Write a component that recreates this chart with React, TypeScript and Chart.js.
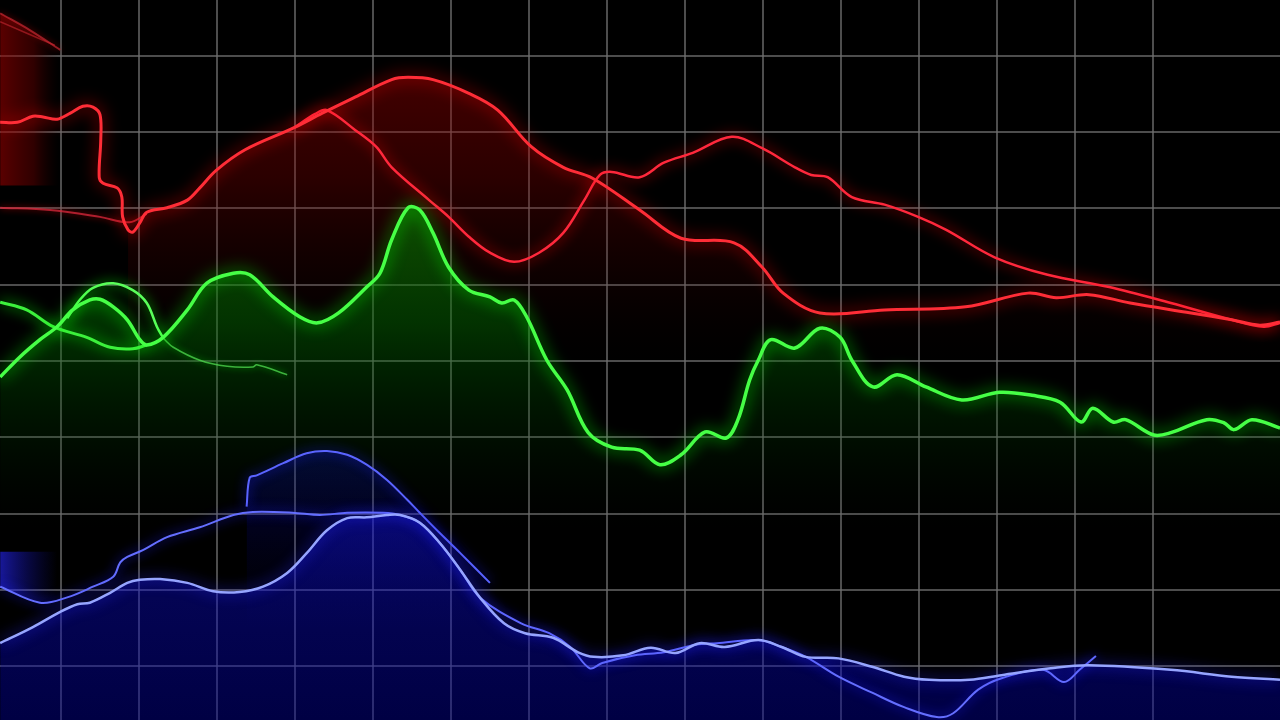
import React, { useEffect, useRef } from "react";
import { Chart, registerables } from "chart.js";

Chart.register(...registerables);

// Axis range (grid step = 10 units on both axes)
const X_MIN = -7.82;
const X_MAX = 156.3;
const Y_MIN = -7.08;
const Y_MAX = 87.34;
const GRID_STEP = 10;

// ---- Red series ----
const redAX = [-7.8, -5.6, -3.6, -2.3, -0.5, 1.2, 2.8, 4.1, 5.0, 5.1, 4.9, 5.4, 7.2, 7.8, 7.9, 8.6, 9.2, 10.1, 11.0, 13.6, 16.2, 17.8, 19.9, 23.6, 29.9, 33.5, 37.7, 42.4, 44.5, 47.7, 52.3, 56.0, 60.3, 64.4, 68.1, 74.2, 79.5, 86.3, 89.9, 92.6, 97.3, 105.6, 116.0, 124.0, 127.6, 131.8, 137.1, 144.9, 150.1, 153.7, 156.3];
const redAY = [71.3, 71.3, 72.1, 72.0, 71.7, 72.5, 73.4, 73.3, 72.3, 69.0, 64.1, 63.3, 62.7, 61.5, 58.9, 57.2, 56.9, 58.1, 59.5, 60.1, 61.1, 62.7, 65.0, 67.7, 70.6, 72.5, 74.6, 76.9, 77.2, 76.9, 75.1, 72.9, 68.1, 65.4, 64.0, 59.8, 56.1, 55.5, 52.3, 48.9, 46.3, 46.7, 47.1, 48.9, 48.3, 48.7, 47.6, 46.3, 45.4, 44.7, 45.1];

const redBX = [29.9, 32.6, 34.1, 37.7, 40.4, 42.4, 47.2, 49.7, 52.3, 55.0, 58.1, 61.3, 64.4, 67.1, 69.1, 70.6, 74.2, 77.3, 81.0, 86.0, 89.9, 94.1, 96.2, 98.3, 101.4, 105.6, 109.9, 113.5, 119.7, 126.5, 134.4, 142.3, 150.1, 154.2, 156.3];
const redBY = [70.6, 72.4, 72.9, 70.3, 68.1, 65.4, 61.1, 58.9, 56.3, 54.2, 53.0, 54.2, 56.8, 61.1, 64.4, 64.8, 64.1, 66.0, 67.3, 69.4, 67.9, 65.4, 64.4, 64.1, 61.5, 60.5, 58.9, 57.2, 53.6, 51.3, 49.7, 47.6, 45.4, 44.5, 45.0];

const redGhostX = [-7.8, -1.4, 5.0, 8.8, 11.0];
const redGhostY = [60.1, 59.8, 58.9, 58.2, 59.3];

const redTopX = [-7.8, -4.0, -0.1];
const redTopY = [85.6, 83.4, 80.8];
const redTop2X = [-7.8, -0.8];
const redTop2Y = [84.5, 81.4];

// ---- Green series ----
const greenX = [-7.8, -5.3, -2.7, -0.5, 1.5, 3.7, 5.0, 6.7, 8.5, 10.1, 11.0, 13.1, 16.2, 18.7, 22.1, 24.2, 27.2, 30.6, 32.9, 35.6, 39.2, 40.9, 42.4, 44.5, 46.0, 47.7, 49.7, 52.3, 55.0, 56.5, 58.1, 59.7, 62.3, 64.9, 67.6, 70.6, 74.2, 76.8, 79.5, 82.6, 85.3, 86.8, 88.3, 89.4, 91.0, 94.1, 97.3, 99.9, 101.4, 104.1, 107.2, 110.9, 115.5, 120.3, 124.5, 128.1, 130.8, 132.3, 134.9, 136.5, 140.1, 142.3, 146.9, 149.1, 150.4, 152.7, 156.3];
const greenY = [37.9, 40.5, 42.8, 44.5, 46.7, 48.0, 48.1, 47.1, 45.4, 42.8, 42.1, 43.1, 46.7, 50.2, 51.5, 51.3, 48.4, 45.8, 45.0, 46.3, 49.7, 51.5, 55.9, 60.1, 59.8, 56.8, 52.3, 49.3, 48.4, 47.6, 48.0, 45.8, 40.1, 36.2, 30.6, 28.7, 28.3, 26.4, 27.7, 30.7, 29.9, 32.3, 37.5, 40.1, 42.8, 41.7, 44.3, 43.1, 40.1, 36.6, 38.2, 36.6, 34.9, 35.9, 35.5, 34.6, 32.0, 33.8, 32.0, 32.3, 30.3, 30.6, 32.3, 31.9, 31.0, 32.3, 31.2];

const green2X = [-7.8, -4.4, -1.0, 3.3, 6.3, 9.2, 11.0];
const green2Y = [47.7, 46.7, 44.5, 43.1, 41.8, 41.6, 42.1];

const green3X = [0.8, 2.4, 4.1, 6.7, 9.2, 11.0, 12.3, 13.1];
const green3Y = [45.6, 48.0, 49.6, 50.2, 49.3, 47.6, 44.5, 43.0];

const greenTailX = [13.1, 14.4, 17.8, 21.3, 24.6, 25.1, 29.0];
const greenTailY = [43.0, 41.8, 40.1, 39.3, 39.2, 39.5, 38.2];

// ---- Blue series ----
const blueX = [-7.8, -3.6, -0.1, 2.1, 3.7, 6.3, 8.5, 10.1, 12.7, 16.2, 19.5, 22.9, 25.9, 29.0, 31.5, 34.1, 36.7, 39.2, 41.8, 43.5, 46.0, 48.6, 51.2, 53.7, 56.8, 59.5, 63.1, 66.3, 68.3, 72.1, 75.6, 78.8, 81.9, 85.1, 89.4, 92.4, 95.5, 99.7, 104.0, 108.1, 111.3, 116.5, 120.6, 126.9, 131.8, 142.3, 150.1, 156.3];
const blueY = [3.0, 5.1, 7.1, 8.1, 8.3, 9.6, 10.9, 11.3, 11.4, 10.9, 9.8, 9.7, 10.4, 12.2, 14.8, 17.8, 19.4, 19.5, 19.8, 19.8, 18.8, 16.1, 12.6, 9.0, 5.6, 4.3, 3.7, 1.8, 1.2, 1.4, 2.4, 1.7, 3.0, 2.5, 3.4, 2.5, 1.2, 1.0, -0.1, -1.4, -1.8, -1.8, -1.2, -0.3, 0.1, -0.5, -1.4, -1.8];

const blue2X = [-7.8, -2.7, 0.8, 4.1, 6.7, 7.6, 8.5, 10.5, 13.6, 17.8, 22.1, 24.6, 29.7, 33.2, 36.7, 41.3, 43.5, 46.0, 48.6, 51.2, 53.7, 59.0, 62.6, 65.3, 67.8, 69.4, 73.6, 77.3, 81.4, 84.1, 89.4, 92.4, 95.5, 99.7, 104.0, 108.1, 112.3, 114.4, 117.6, 120.6, 125.9, 128.6, 130.6, 132.7];
const blue2Y = [10.4, 8.3, 9.0, 10.4, 11.7, 13.6, 14.3, 15.2, 16.9, 18.2, 19.8, 20.2, 20.1, 19.8, 20.1, 20.1, 19.8, 18.8, 16.1, 12.6, 9.0, 5.6, 4.3, 2.5, -0.3, 0.4, 1.4, 1.8, 2.8, 3.0, 3.4, 2.5, 1.2, -1.4, -3.5, -5.4, -6.7, -6.2, -3.1, -1.6, -0.5, -2.1, -0.5, 1.3];

const blueHumpX = [23.8, 24.2, 25.1, 28.5, 31.5, 34.1, 36.7, 39.2, 41.8, 44.4, 46.0, 48.6, 51.2, 55.0];
const blueHumpY = [20.9, 24.7, 25.0, 26.6, 27.9, 28.2, 27.7, 26.4, 24.4, 21.8, 20.1, 17.4, 14.8, 10.9];

const pts = (xs: number[], ys: number[]) => xs.map((x, i) => ({ x, y: ys[i] }));

// vertical / horizontal gradients built from scale values
const vGrad = (stops: [number, string][]) => (c: any) => {
  const { ctx, chartArea, scales } = c.chart;
  if (!chartArea) return "transparent";
  const ys = stops.map((s) => scales.y.getPixelForValue(s[0]));
  const g = ctx.createLinearGradient(0, ys[0], 0, ys[ys.length - 1]);
  const span = ys[ys.length - 1] - ys[0];
  stops.forEach((s, i) => g.addColorStop(Math.min(1, Math.max(0, (ys[i] - ys[0]) / span)), s[1]));
  return g;
};
const hGrad = (stops: [number, string][]) => (c: any) => {
  const { ctx, chartArea, scales } = c.chart;
  if (!chartArea) return "transparent";
  const xs = stops.map((s) => scales.x.getPixelForValue(s[0]));
  const g = ctx.createLinearGradient(xs[0], 0, xs[xs.length - 1], 0);
  const span = xs[xs.length - 1] - xs[0];
  stops.forEach((s, i) => g.addColorStop(Math.min(1, Math.max(0, (xs[i] - xs[0]) / span)), s[1]));
  return g;
};

const glowPlugin = {
  id: "glow",
  beforeDatasetDraw(chart: any, args: any) {
    const ds = chart.data.datasets[args.index];
    const ctx = chart.ctx;
    ctx.save();
    if (ds.glowColor) {
      ctx.shadowColor = ds.glowColor;
      ctx.shadowBlur = ds.glowBlur || 12;
    }
  },
  afterDatasetDraw(chart: any) {
    chart.ctx.restore();
  },
};

const bgPlugin = {
  id: "bg",
  beforeDraw(chart: any) {
    const ctx = chart.ctx;
    ctx.save();
    ctx.fillStyle = "#000";
    ctx.fillRect(0, 0, chart.width, chart.height);
    ctx.restore();
  },
};

export default function App() {
  const ref = useRef<HTMLCanvasElement | null>(null);
  useEffect(() => {
    if (!ref.current) return;
    const line = (data: any, extra: any) => ({
      type: "line",
      data,
      pointRadius: 0,
      tension: 0.35,
      fill: false,
      ...extra,
    });
    const area = (data: any, fill: any, bg: any) => ({
      type: "line",
      data,
      pointRadius: 0,
      tension: 0.35,
      borderWidth: 0,
      borderColor: "transparent",
      fill,
      backgroundColor: bg,
    });
    const chart = new Chart(ref.current, {
      type: "line",
      data: {
        datasets: [
          line(pts(greenX, greenY), {
            borderColor: "rgb(70,255,70)", borderWidth: 3.5, glowColor: "rgb(0,255,0)", glowBlur: 16,
            fill: "start",
            backgroundColor: vGrad([[62, "rgba(0,150,0,0.55)"], [45, "rgba(0,120,0,0.42)"], [30, "rgba(0,70,0,0.2)"], [18, "rgba(0,30,0,0)"]]),
          }),
          line(pts(green2X, green2Y), { borderColor: "rgb(60,240,60)", borderWidth: 3, glowColor: "rgb(0,255,0)", glowBlur: 14 }),
          line(pts(green3X, green3Y), { borderColor: "rgb(90,255,90)", borderWidth: 2.5, glowColor: "rgb(0,255,0)", glowBlur: 12 }),
          line(pts(greenTailX, greenTailY), { borderColor: "rgba(80,220,80,0.75)", borderWidth: 1.5, glowColor: "rgb(0,200,0)", glowBlur: 6 }),

          line(pts(redAX, redAY), { borderColor: "rgb(255,45,55)", borderWidth: 3, glowColor: "rgb(255,0,0)", glowBlur: 16 }),
          line(pts(redBX, redBY), { borderColor: "rgb(255,40,60)", borderWidth: 2.5, glowColor: "rgb(255,0,0)", glowBlur: 14 }),
          line(pts(redGhostX, redGhostY), { borderColor: "rgba(220,40,60,0.75)", borderWidth: 2, glowColor: "rgb(200,0,0)", glowBlur: 6 }),
          line(pts(redTopX, redTopY), { borderColor: "rgba(200,40,50,0.7)", borderWidth: 2, glowColor: "rgb(180,0,0)", glowBlur: 6 }),
          line(pts(redTop2X, redTop2Y), { borderColor: "rgba(200,40,50,0.6)", borderWidth: 1.5 }),
          // red glow areas
          area(pts(redAX.slice(15), redAY.slice(15)), { value: 40 },
            vGrad([[78, "rgba(150,0,0,0.45)"], [64, "rgba(130,0,0,0.33)"], [52, "rgba(90,0,0,0.16)"], [40, "rgba(40,0,0,0)"]])),
          area(pts(redTopX, redTopY), { value: 63 },
            hGrad([[-7.8, "rgba(150,0,0,0.6)"], [-3.5, "rgba(120,0,0,0.4)"], [-0.3, "rgba(60,0,0,0)"]])),

          line(pts(blueX, blueY), {
            borderColor: "rgb(150,165,255)", borderWidth: 2.5, glowColor: "rgb(40,40,255)", glowBlur: 14,
            fill: "start",
            backgroundColor: vGrad([[22, "rgba(20,20,230,0.45)"], [10, "rgba(10,10,200,0.42)"], [-7, "rgba(0,0,150,0.45)"]]),
          }),
          line(pts(blue2X, blue2Y), { borderColor: "rgb(100,110,255)", borderWidth: 2, glowColor: "rgb(30,30,255)", glowBlur: 12 }),
          line(pts(blueHumpX, blueHumpY), { borderColor: "rgb(90,100,255)", borderWidth: 2, glowColor: "rgb(30,30,255)", glowBlur: 12 }),
          area(pts(blueHumpX, blueHumpY), "start",
            vGrad([[28, "rgba(10,10,200,0.3)"], [15, "rgba(5,5,160,0.12)"], [5, "rgba(0,0,120,0)"]])),
          area(pts(blue2X.slice(0, 3), blue2Y.slice(0, 3)), { value: 15 },
            hGrad([[-7.8, "rgba(40,40,255,0.6)"], [-4.5, "rgba(30,30,240,0.3)"], [-0.5, "rgba(20,20,200,0)"]])),
        ] as any,
      },
      options: {
        animation: false,
        responsive: false,
        devicePixelRatio: 1,
        layout: { padding: 0 },
        plugins: {
          legend: { display: false },
          tooltip: { enabled: false },
          filler: { drawTime: "beforeDatasetsDraw" },
        } as any,
        scales: {
          x: {
            type: "linear",
            min: X_MIN,
            max: X_MAX,
            ticks: { display: false, stepSize: GRID_STEP },
            grid: { color: "rgba(110,110,110,0.7)", lineWidth: 2, drawTicks: false },
            border: { display: false },
            afterBuildTicks: (s: any) => {
              s.ticks = s.ticks.filter((t: any) => Math.abs(t.value / GRID_STEP - Math.round(t.value / GRID_STEP)) < 1e-6);
            },
          },
          y: {
            type: "linear",
            min: Y_MIN,
            max: Y_MAX,
            ticks: { display: false, stepSize: GRID_STEP },
            grid: { color: "rgba(110,110,110,0.7)", lineWidth: 2, drawTicks: false },
            border: { display: false },
            afterBuildTicks: (s: any) => {
              s.ticks = s.ticks.filter((t: any) => Math.abs(t.value / GRID_STEP - Math.round(t.value / GRID_STEP)) < 1e-6);
            },
          },
        },
      } as any,
      plugins: [bgPlugin, glowPlugin],
    });
    return () => chart.destroy();
  }, []);
  return (
    <div style={{ position: "fixed", left: 0, top: 0, width: 1280, height: 720, background: "#000" }}>
      <canvas ref={ref} width={1280} height={720} style={{ display: "block" }} />
    </div>
  );
}
